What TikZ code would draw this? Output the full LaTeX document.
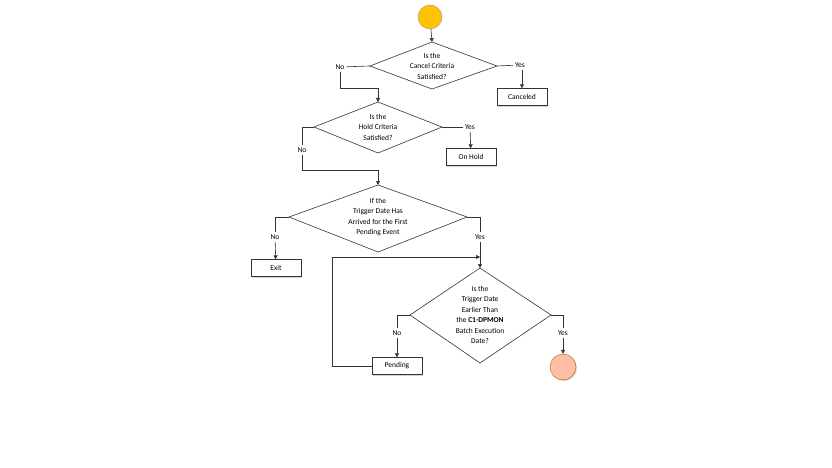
\documentclass[tikz,border=0pt]{standalone}
\usepackage{fontspec}
\setmainfont{Carlito}
\usetikzlibrary{shapes.geometric,arrows.meta,shadows}
\begin{document}
\begin{tikzpicture}[x=1pt,y=-1pt,
  every node/.style={font=\fontsize{7.5}{10.5}\selectfont,inner sep=0pt},
  box/.style={draw=black!80,fill=white,minimum width=50pt,minimum height=17pt,drop shadow={shadow xshift=1.2pt,shadow yshift=-1.2pt,opacity=0.35}},
  dia/.style={draw=black!80,align=center},
  lbl/.style={fill=white,inner sep=2pt},
  ln/.style={draw=black!80,line width=0.6pt},
  arr/.style={ln,-{Triangle[length=4pt,width=4pt]}}]
\useasboundingbox (0,0) rectangle (832,468);
\node[circle,draw=black!40,fill=orange!40!yellow!95!red,minimum size=24pt] (start) at (430,17) {};
\path[ln] (432,42) coordinate (d1t) -- (497,66) coordinate (d1r) -- (432,89) -- (370,66) coordinate (d1l) -- cycle;
\node[align=center] (t1) at (432,66) {Is the\\Cancel Criteria\\Satisfied?};
\draw[arr] (start) -- (d1t);
\node[box] (cancel) at (522,97) {Canceled};
\node[lbl] (y1) at (520,65) {Yes};
\draw[ln] (d1r) -- (y1);
\draw[arr] (y1.south -| cancel) -- (cancel);
\path[ln] (378,102) coordinate (d2t) -- (442,127) coordinate (d2r) -- (378,153) -- (314,127) coordinate (d2l) -- cycle;
\node[align=center] (t2) at (378,127) {Is the\\Hold Criteria\\Satisfied?};
\node[lbl] (n1) at (340,67) {No};
\draw[ln] (d1l) -- (n1);
\draw[arr] (n1) |- (378,88) coordinate (c1) -- (d2t);
\node[box] (hold) at (471,157) {On Hold};
\node[lbl] (y2) at (470,127) {Yes};
\draw[ln] (d2r) -- (y2);
\draw[arr] (y2) -- (hold);
\path[ln] (378,185) coordinate (d3t) -- (467,217) coordinate (d3r) -- (378,252) -- (289,217) coordinate (d3l) -- cycle;
\node[align=center] (t3) at (378,217) {If the\\Trigger Date Has\\Arrived for the First\\Pending Event};
\node[lbl] (n2) at (302,150) {No};
\draw[ln] (d2l) -| (n2);
\draw[arr] (n2) |- (378,170) coordinate (c2) -- (d3t);
\node[box] (exit) at (276,268) {Exit};
\node[lbl] (n3) at (275,237) {No};
\draw[ln] (d3l) -| (n3);
\draw[arr] (n3) -- (exit);
\path[ln] (480,268) coordinate (d4t) -- (551,315) coordinate (d4r) -- (480,363) -- (410,315) coordinate (d4l) -- cycle;
\node[align=center] (t4) at (480,315) {Is the\\Trigger Date\\Earlier Than\\the \textbf{C1-DPMON}\\Batch Execution\\Date?};
\node[lbl] (y3) at (480,237) {Yes};
\draw[ln] (d3r) -| (y3);
\draw[arr] (y3) -- (d4t);
\node[box] (pend) at (397,366) {Pending};
\node[lbl] (n4) at (397,333) {No};
\draw[ln] (d4l) -| (n4);
\draw[arr] (n4) -- (pend);
\coordinate (loop) at (480,257);
\draw[arr] (pend.west) -| (332,257) -- (loop);
\node[circle,draw=orange!70!black,fill=orange!55!red!35!white,minimum size=26pt,drop shadow={shadow xshift=1pt,shadow yshift=-1pt,opacity=0.3}] (end) at (563,367) {};
\node[lbl] (y4) at (563,333) {Yes};
\draw[ln] (d4r) -| (y4);
\draw[arr] (y4) -- (end);
\end{tikzpicture}
\end{document}
